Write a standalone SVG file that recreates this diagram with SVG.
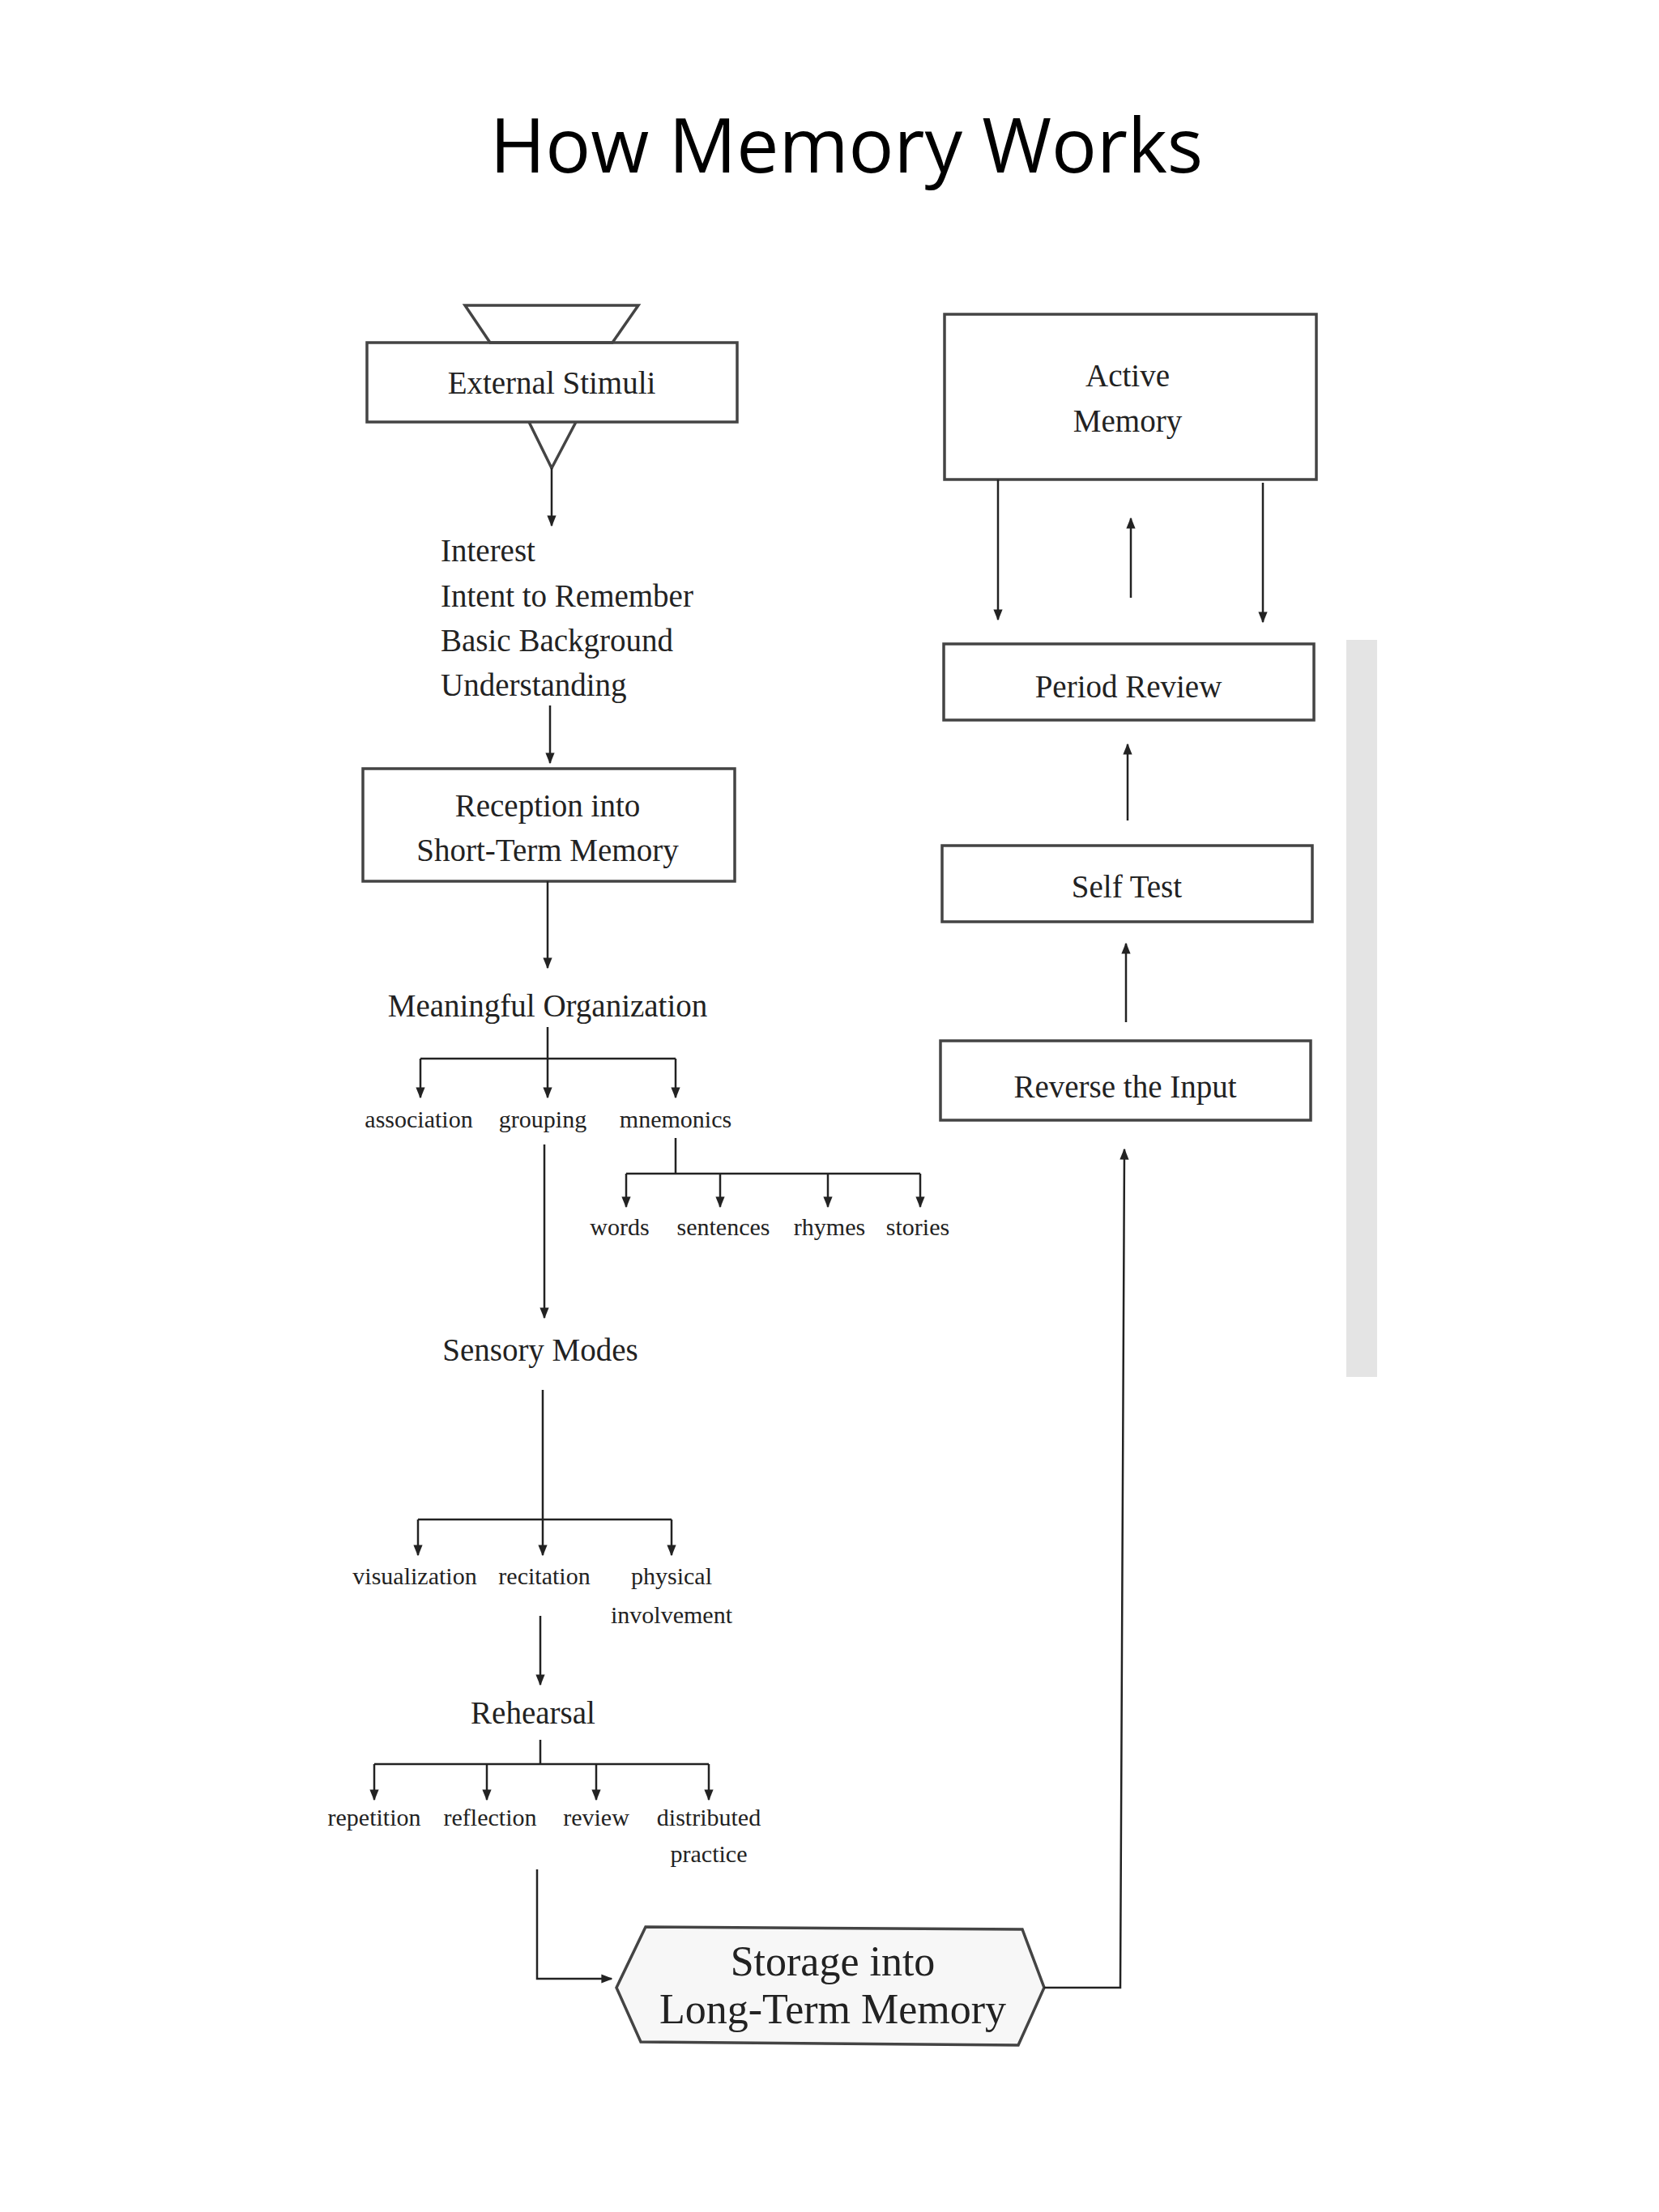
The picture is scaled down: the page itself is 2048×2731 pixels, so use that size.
<svg xmlns="http://www.w3.org/2000/svg" width="2048" height="2731" viewBox="0 0 2048 2731">
<defs>
<marker id="ah" viewBox="0 0 10 10" refX="9" refY="5" markerWidth="14" markerHeight="14" markerUnits="userSpaceOnUse" orient="auto"><path d="M0,1 L10,5 L0,9 z" fill="#222"/></marker>
<style>
.t{font-family:"Liberation Serif","Times New Roman",serif;fill:#222;}
.m{font-size:39px;}
.s{font-size:30px;}
.c{text-anchor:middle;}
.b{fill:none;stroke:#444;stroke-width:3.5;}
.l{fill:none;stroke:#222;stroke-width:2.5;}
.a{marker-end:url(#ah);}
</style>
</defs>
<rect width="2048" height="2731" fill="#fff"/>
<text x="1045" y="213" font-family="'Open Sans',sans-serif" font-size="93" fill="#000" text-anchor="middle">How Memory Works</text>
<rect x="1662" y="790" width="38" height="910" fill="#e4e4e4"/>

<g id="external-stimuli">
<path class="b" d="M574,377 L788,377 L756,423 L605,423 Z"/>
<rect class="b" x="453" y="423" width="457" height="98"/>
<path class="b" d="M653,521 L681,578 L711,521"/>
<text class="t m c" x="681" y="486">External Stimuli</text>
</g>
<g id="conditions">
<text class="t m" x="544" y="693">Interest</text>
<text class="t m" x="544" y="749">Intent to Remember</text>
<text class="t m" x="544" y="804">Basic Background</text>
<text class="t m" x="544" y="859">Understanding</text>
</g>
<g id="short-term">
<rect class="b" x="448" y="949" width="459" height="139"/>
<text class="t m c" x="676" y="1008">Reception into</text>
<text class="t m c" x="676" y="1063">Short-Term Memory</text>
</g>
<g id="organization">
<text class="t m c" x="676" y="1255">Meaningful Organization</text>
<text class="t s c" x="517" y="1392">association</text>
<text class="t s c" x="670" y="1392">grouping</text>
<text class="t s c" x="834" y="1392">mnemonics</text>
<text class="t s c" x="765" y="1525">words</text>
<text class="t s c" x="893" y="1525">sentences</text>
<text class="t s c" x="1024" y="1525">rhymes</text>
<text class="t s c" x="1133" y="1525">stories</text>
</g>
<g id="sensory">
<text class="t m c" x="667" y="1680">Sensory Modes</text>
<text class="t s c" x="512" y="1956">visualization</text>
<text class="t s c" x="672" y="1956">recitation</text>
<text class="t s c" x="829" y="1956">physical</text>
<text class="t s c" x="829" y="2004">involvement</text>
</g>
<g id="rehearsal">
<text class="t m c" x="658" y="2128">Rehearsal</text>
<text class="t s c" x="462" y="2254">repetition</text>
<text class="t s c" x="605" y="2254">reflection</text>
<text class="t s c" x="736" y="2254">review</text>
<text class="t s c" x="875" y="2254">distributed</text>
<text class="t s c" x="875" y="2299">practice</text>
</g>
<g id="long-term">
<path d="M761,2454 L797,2379 L1262,2382 L1289,2454 L1257,2525 L791,2521 Z" fill="#f7f7f7" stroke="#444" stroke-width="3.5"/>
<text class="t c" font-size="52" x="1028" y="2439">Storage into</text>
<text class="t c" font-size="52" x="1028" y="2498">Long-Term Memory</text>
</g>
<g id="reverse-input">
<rect class="b" x="1161" y="1285" width="457" height="98"/>
<text class="t m c" x="1389" y="1355">Reverse the Input</text>
</g>
<g id="self-test">
<rect class="b" x="1163" y="1044" width="457" height="94"/>
<text class="t m c" x="1391" y="1108">Self Test</text>
</g>
<g id="period-review">
<rect class="b" x="1165" y="795" width="457" height="94"/>
<text class="t m c" x="1393" y="861">Period Review</text>
</g>
<g id="active-memory">
<rect class="b" x="1166" y="388" width="459" height="204"/>
<text class="t m c" x="1392" y="477">Active</text>
<text class="t m c" x="1392" y="533">Memory</text>
</g>

<g id="connectors">
<path class="l a" d="M681,578 L681,649"/>
<path class="l a" d="M679,871 L679,942"/>
<path class="l a" d="M676,1088 L676,1195"/>
<path class="l" d="M676,1268 L676,1307 M519,1307 L834,1307"/>
<path class="l a" d="M519,1307 L519,1355"/>
<path class="l a" d="M676,1307 L676,1355"/>
<path class="l a" d="M834,1307 L834,1355"/>
<path class="l" d="M834,1405 L834,1449 M773,1449 L1136,1449"/>
<path class="l a" d="M773,1449 L773,1490"/>
<path class="l a" d="M889,1449 L889,1490"/>
<path class="l a" d="M1022,1449 L1022,1490"/>
<path class="l a" d="M1136,1449 L1136,1490"/>
<path class="l a" d="M672,1413 L672,1627"/>
<path class="l" d="M670,1716 L670,1876 M516,1876 L829,1876"/>
<path class="l a" d="M516,1876 L516,1920"/>
<path class="l a" d="M670,1876 L670,1920"/>
<path class="l a" d="M829,1876 L829,1920"/>
<path class="l a" d="M667,1995 L667,2080"/>
<path class="l" d="M667,2148 L667,2178 M462,2178 L875,2178"/>
<path class="l a" d="M462,2178 L462,2222"/>
<path class="l a" d="M601,2178 L601,2222"/>
<path class="l a" d="M736,2178 L736,2222"/>
<path class="l a" d="M875,2178 L875,2222"/>
<path class="l a" d="M663,2308 L663,2443 L755,2443"/>
<path class="l a" d="M1289,2454 L1383,2454 L1388,1419"/>
<path class="l a" d="M1390,1262 L1390,1165"/>
<path class="l a" d="M1392,1013 L1392,919"/>
<path class="l a" d="M1232,592 L1232,765"/>
<path class="l a" d="M1396,738 L1396,640"/>
<path class="l a" d="M1559,596 L1559,768"/>
</g>
</svg>
